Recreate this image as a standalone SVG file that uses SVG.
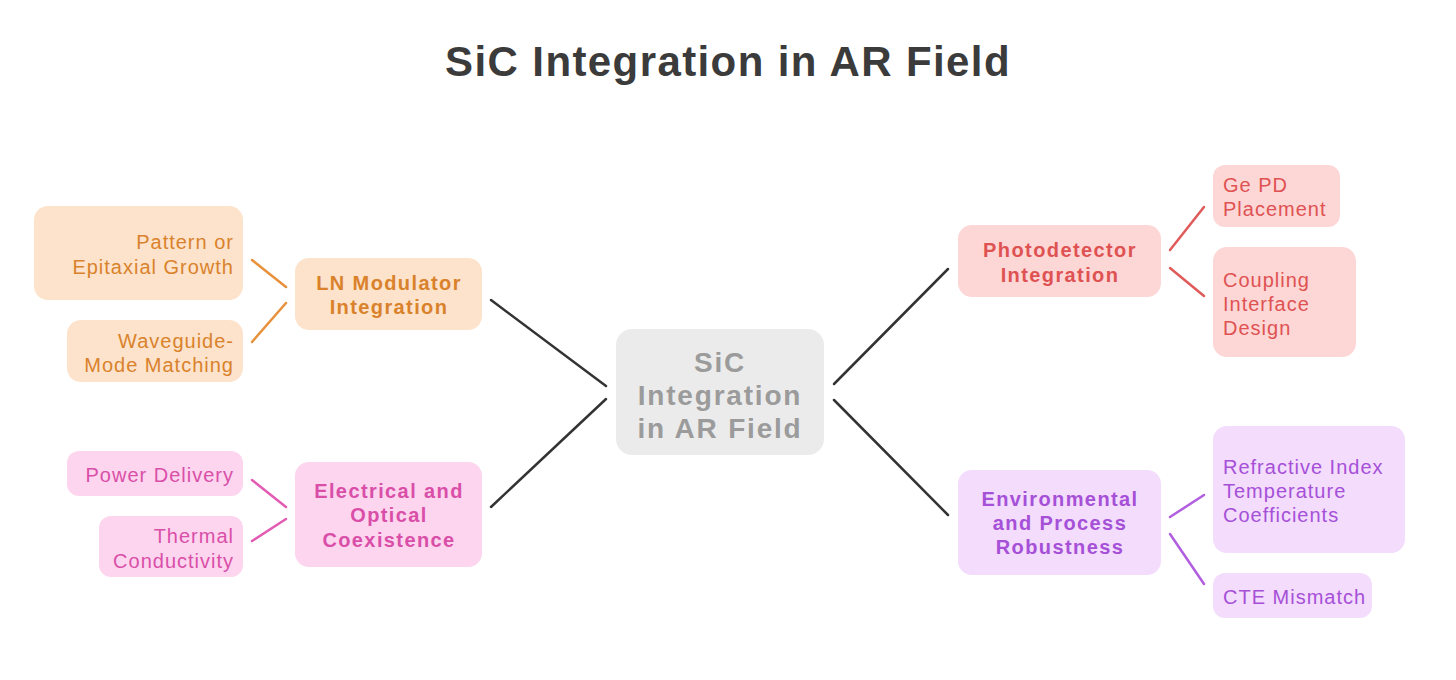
<svg xmlns="http://www.w3.org/2000/svg" width="1456" height="680" viewBox="0 0 1456 680">
<style>
  text { font-family: "Liberation Sans", Arial, sans-serif; }
  .title { font-size: 42px; font-weight: 700; fill: #3b3b3b; text-anchor: middle; letter-spacing: 1.4px; }
  .main { font-size: 28px; font-weight: 700; fill: #9b9b9b; text-anchor: middle; letter-spacing: 1.8px; }
  .cat { font-size: 20px; font-weight: 700; text-anchor: middle; letter-spacing: 1.4px; }
  .leaf { font-size: 20px; letter-spacing: 1px; }
  .r { text-anchor: end; }
  .conn line { stroke-width: 2.5; stroke-linecap: round; }
  .orange text { fill: #d9822b; } .orange rect { fill: #fde3cc; }
  .pink text { fill: #d94fa8; } .pink rect { fill: #fdd5ef; }
  .red text { fill: #df5252; } .red rect { fill: #fdd6d6; }
  .purple text { fill: #a650d8; } .purple rect { fill: #f3dcfc; }
</style>
<rect width="1456" height="680" fill="#ffffff"/>
<text class="title" x="728" y="76">SiC Integration in AR Field</text>

<g id="connectors" class="conn">
  <line x1="491" y1="300" x2="606" y2="386" stroke="#333"/>
  <line x1="491" y1="507" x2="606" y2="399" stroke="#333"/>
  <line x1="834" y1="384" x2="948" y2="269" stroke="#333"/>
  <line x1="834" y1="400" x2="948" y2="515" stroke="#333"/>
  <line x1="252" y1="260" x2="286" y2="287" stroke="#e8913c"/>
  <line x1="252" y1="342" x2="286" y2="303" stroke="#e8913c"/>
  <line x1="252" y1="480" x2="286" y2="507" stroke="#e25cb3"/>
  <line x1="252" y1="541" x2="286" y2="519" stroke="#e25cb3"/>
  <line x1="1170" y1="250" x2="1204" y2="207" stroke="#e05a5a"/>
  <line x1="1170" y1="268" x2="1204" y2="296" stroke="#e05a5a"/>
  <line x1="1170" y1="517" x2="1204" y2="495" stroke="#b25ee0"/>
  <line x1="1170" y1="534" x2="1204" y2="584" stroke="#b25ee0"/>
</g>

<g id="center">
  <rect x="616" y="329" width="208" height="126" rx="16" fill="#ebebeb"/>
  <text class="main" x="720" y="372">SiC</text>
  <text class="main" x="720" y="405">Integration</text>
  <text class="main" x="720" y="438">in AR Field</text>
</g>

<g id="ln-modulator" class="orange">
  <rect x="295" y="258" width="187" height="72" rx="14"/>
  <text class="cat" x="389" y="290">LN Modulator</text>
  <text class="cat" x="389" y="314">Integration</text>
</g>
<g id="pattern-growth" class="orange">
  <rect x="34" y="206" width="209" height="94" rx="14"/>
  <text class="leaf r" x="234" y="249">Pattern or</text>
  <text class="leaf r" x="234" y="274">Epitaxial Growth</text>
</g>
<g id="waveguide-mode" class="orange">
  <rect x="67" y="320" width="176" height="62" rx="14"/>
  <text class="leaf r" x="234" y="348">Waveguide-</text>
  <text class="leaf r" x="234" y="372">Mode Matching</text>
</g>

<g id="electrical-optical" class="pink">
  <rect x="295" y="462" width="187" height="105" rx="14"/>
  <text class="cat" x="389" y="498">Electrical and</text>
  <text class="cat" x="389" y="522">Optical</text>
  <text class="cat" x="389" y="547">Coexistence</text>
</g>
<g id="power-delivery" class="pink">
  <rect x="67" y="451" width="176" height="45" rx="12"/>
  <text class="leaf r" x="234" y="482">Power Delivery</text>
</g>
<g id="thermal" class="pink">
  <rect x="99" y="516" width="144" height="61" rx="12"/>
  <text class="leaf r" x="234" y="543">Thermal</text>
  <text class="leaf r" x="234" y="568">Conductivity</text>
</g>

<g id="photodetector" class="red">
  <rect x="958" y="225" width="203" height="72" rx="14"/>
  <text class="cat" x="1060" y="257">Photodetector</text>
  <text class="cat" x="1060" y="282">Integration</text>
</g>
<g id="ge-pd" class="red">
  <rect x="1213" y="165" width="127" height="62" rx="12"/>
  <text class="leaf" x="1223" y="192">Ge PD</text>
  <text class="leaf" x="1223" y="216">Placement</text>
</g>
<g id="coupling" class="red">
  <rect x="1213" y="247" width="143" height="110" rx="14"/>
  <text class="leaf" x="1223" y="287">Coupling</text>
  <text class="leaf" x="1223" y="311">Interface</text>
  <text class="leaf" x="1223" y="335">Design</text>
</g>

<g id="environmental" class="purple">
  <rect x="958" y="470" width="203" height="105" rx="14"/>
  <text class="cat" x="1060" y="506">Environmental</text>
  <text class="cat" x="1060" y="530">and Process</text>
  <text class="cat" x="1060" y="554">Robustness</text>
</g>
<g id="refractive" class="purple">
  <rect x="1213" y="426" width="192" height="127" rx="14"/>
  <text class="leaf" x="1223" y="474">Refractive Index</text>
  <text class="leaf" x="1223" y="498">Temperature</text>
  <text class="leaf" x="1223" y="522">Coefficients</text>
</g>
<g id="cte" class="purple">
  <rect x="1213" y="573" width="159" height="45" rx="12"/>
  <text class="leaf" x="1223" y="604">CTE Mismatch</text>
</g>
</svg>
